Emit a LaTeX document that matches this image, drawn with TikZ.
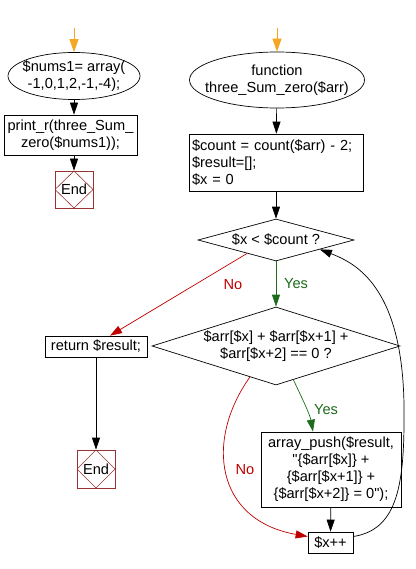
\documentclass[tikz,border=0pt]{standalone}
\usepackage{fontspec}
\setmainfont{Liberation Sans}
\usetikzlibrary{calc, shapes.geometric, arrows.meta}
\definecolor{endred}{HTML}{993333}
\definecolor{nored}{HTML}{C00000}
\definecolor{yesgreen}{HTML}{1E6B1E}
\definecolor{startorange}{HTML}{F5A623}

\begin{document}
\begin{tikzpicture}[x = 1pt, y = -1pt, line width = 0.7pt,
        font = \fontsize{14.6}{17}\selectfont,
        every node/.style = {inner sep = 0pt, align = center},
        proc/.style = {draw, rectangle},
        term/.style = {draw, ellipse, inner xsep = -16pt},
        decision/.style = {draw, diamond},
        endbox/.style = {draw = endred, minimum width = 38, minimum height = 37,
            path picture = {\draw[endred, line width = 0.6pt] (path picture bounding box.north) -- (path picture bounding box.east)
                -- (path picture bounding box.south) -- (path picture bounding box.west) -- cycle;}},
        flow/.style = {-{Triangle[length = 12pt, width = 8pt]}},
        startflow/.style = {flow, draw = startorange, -{Triangle[length = 13pt, width = 9pt, fill = startorange]}},
        yesflow/.style = {flow, draw = yesgreen},
        noflow/.style = {flow, draw = nored},
        yeslabel/.style = {text = yesgreen},
        nolabel/.style = {text = nored}]
            \useasboundingbox (0,0) rectangle (415,569);
            \coordinate (s1) at (74,28);
            \coordinate (s2) at (277,28);
            \node[term, minimum width = 132, minimum height = 47] (e1) at (74,76) {\$nums1= array(\\-1,0,1,2,-1,-4);};
            \node[proc, minimum width = 133, minimum height = 40] (p1) at (70.5,135) {print\_r(three\_Sum\_\\zero(\$nums1));};
            \node[endbox] (end1) at (74,189.5) {End};
            \node[term, minimum width = 175, minimum height = 56] (e2) at (277,80) {function\\three\_Sum\_zero(\$arr)};
            \node[proc, minimum height = 57, text width = 168, inner xsep = 3pt, align = left] (init) at (276,162.5)
                {\$count = count(\$arr) - 2;\\\$result=[];\\\$x = 0};
            \node[decision, shape aspect = 3.71, minimum width = 156, minimum height = 42] (d1) at (276,240) {\$x < \$count ?};
            \node[decision, shape aspect = 3.18, minimum width = 248, minimum height = 78] (d2) at (276,346)
                {\$arr[\$x] + \$arr[\$x+1] +\\\$arr[\$x+2] == 0 ?};
            \node[proc, minimum width = 102, minimum height = 21] (ret) at (96,346.5) {return \$result;};
            \node[endbox, minimum height = 38] (end2) at (96,469) {End};
            \node[proc, minimum width = 140, minimum height = 75] (push) at (331,469.5)
                {array\_push(\$result,\\\textquotedbl\{\$arr[\$x]\} +\\\{\$arr[\$x+1]\} +\\\{\$arr[\$x+2]\} = 0\textquotedbl);};
            \node[proc, minimum width = 45, minimum height = 21] (xpp) at (330.5,542.5) {\$x++};
            \draw[startflow] (s1) -- (e1);
            \draw[flow] (e1.south) -- (e1.south |- p1.north);
            \draw[flow] (p1.south -| end1) -- (end1);
            \draw[startflow] (s2) -- (e2);
            \draw[flow] (e2) -- (init);
            \draw[flow] (init) -- (d1);
            \draw[yesflow] (d1) -- (d2) node[yeslabel, pos = 0.5, xshift = 20pt] {Yes};
            \draw[noflow] ($(d1.south)!0.37!(d1.west)$) -- ($(ret.north)+(14,0)$);
            \node[nolabel] (no1) at (233,285) {No};
            \draw[flow] (ret) -- (end2);
            \draw[yesflow] ($(d2.south)!0.14!(d2.east)$) .. controls (303,400) and (310,415) .. ($(push.north)+(-18,0)$);
            \node[yeslabel] (yes2) at (326,410) {Yes};
            \draw[noflow] ($(d2.south)!0.21!(d2.west)$) .. controls (205,440) and (215,520) .. ($(xpp.west)+(0,-6)$);
            \node[nolabel] (no2) at (245,470) {No};
            \draw[flow] (push) -- (xpp);
            \draw[flow] ($(xpp.east)+(0,-6)$) .. controls (395,530) and (404,490) .. (404,420)
                .. controls (406,290) and (358,264) .. ($(d1.east)!0.44!(d1.south)$);
        \end{tikzpicture}
\end{document}
